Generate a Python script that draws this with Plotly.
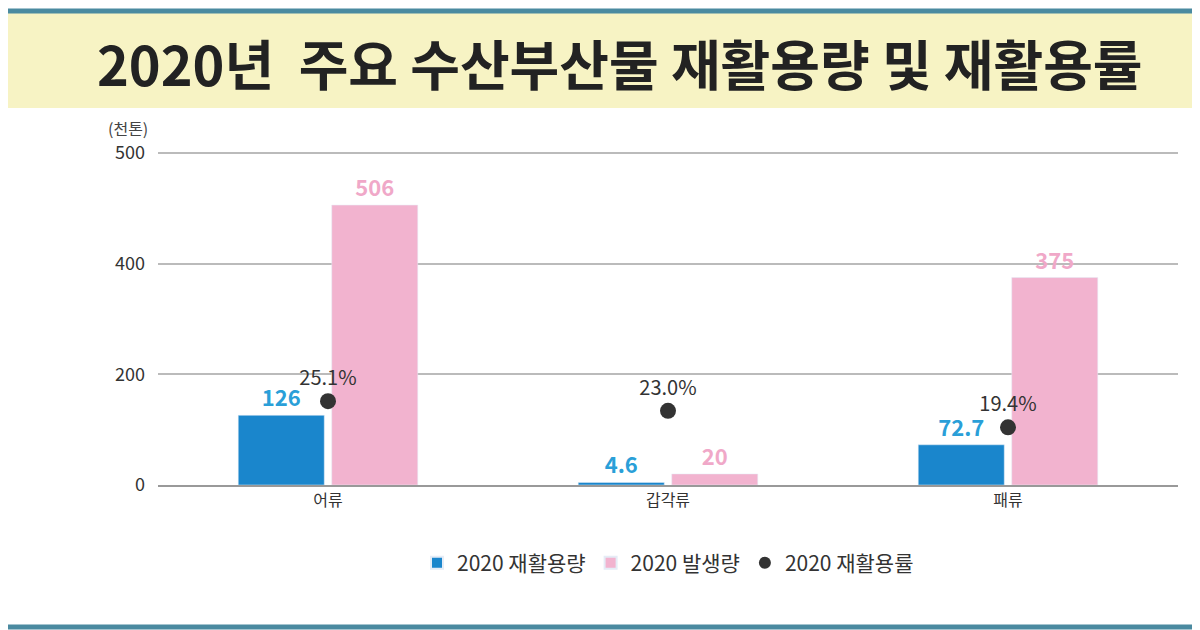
import plotly.graph_objects as go

categories = ["어류", "갑각류", "패류"]
recycled = [126, 4.6, 72.7]
generated = [506, 20, 375]
rate = [25.1, 23.0, 19.4]
recycled_text = ["126", "4.6", "72.7"]
generated_text = ["506", "20", "375"]
rate_text = ["25.1%", "23.0%", "19.4%"]
tick_vals = [0, 200, 400, 600]
tick_text = ["0", "200", "400", "500"]

F = "Noto Sans CJK KR"
L, R, T, B = 150, 30, 144, 153
W = 1200 - L - R
H = 630 - T - B
def px(x): return (x - L) / W
def py(y): return (630 - B - y) / H

fig = go.Figure()
fig.add_bar(x=categories, y=recycled, name="2020 재활용량", marker_color="#1a86cc",
            text=["<b>%s</b>" % t for t in recycled_text], textposition="outside", cliponaxis=False,
            textfont=dict(color="#2a9fd8", size=22, family=F))
fig.add_bar(x=categories, y=generated, name="2020 발생량", marker_color="#f2b3cf",
            text=["<b>%s</b>" % t for t in generated_text], textposition="outside", cliponaxis=False,
            textfont=dict(color="#f0a8c8", size=22, family=F))
fig.add_scatter(x=categories, y=rate, name="2020 재활용률", yaxis="y2", mode="markers+text",
                marker=dict(color="#333333", size=16),
                text=rate_text, textposition="top center", cliponaxis=False,
                textfont=dict(color="#333", size=20, family=F))

fig.update_layout(
    width=1200, height=630, paper_bgcolor="white", plot_bgcolor="white",
    margin=dict(l=L, r=R, t=T, b=B),
    barmode="group", bargap=0.45, bargroupgap=0.08,
    font=dict(family=F, color="#333"),
    xaxis=dict(showline=True, linecolor="#999", linewidth=2, tickfont=dict(size=16)),
    yaxis=dict(range=[0, 602], tickvals=tick_vals, ticktext=tick_text, gridcolor="#bbb",
               gridwidth=1.5, zeroline=False, tickfont=dict(size=18), ticklabelstandoff=12),
    yaxis2=dict(overlaying="y", range=[6.8, 79.5], visible=False),
    legend=dict(orientation="h", x=px(660), xanchor="center", y=py(555), yanchor="middle",
                font=dict(size=21), itemsizing="constant"),
    shapes=[
        dict(type="rect", xref="paper", yref="paper", x0=px(0), x1=px(1200), y0=py(100), y1=py(5),
             fillcolor="#f7f3c4", line_width=0, layer="below"),
        dict(type="line", xref="paper", yref="paper", x0=px(0), x1=px(1200), y0=py(3), y1=py(3),
             line=dict(color="#4a8aa0", width=5)),
        dict(type="line", xref="paper", yref="paper", x0=px(0), x1=px(1200), y0=py(619), y1=py(619),
             line=dict(color="#4a8aa0", width=5)),
    ],
    annotations=[
        dict(text="<b>2020년  주요 수산부산물 재활용량 및 재활용률</b>", xref="paper", yref="paper",
             x=px(612), y=py(55), xanchor="center", yanchor="middle", showarrow=False,
             font=dict(size=54, color="#222", family=F)),
        dict(text="(천톤)", xref="paper", yref="paper", x=px(120), y=py(120), showarrow=False,
             xanchor="center", yanchor="middle", font=dict(size=16, color="#444")),
    ],
)
fig.write_html("out.html")
